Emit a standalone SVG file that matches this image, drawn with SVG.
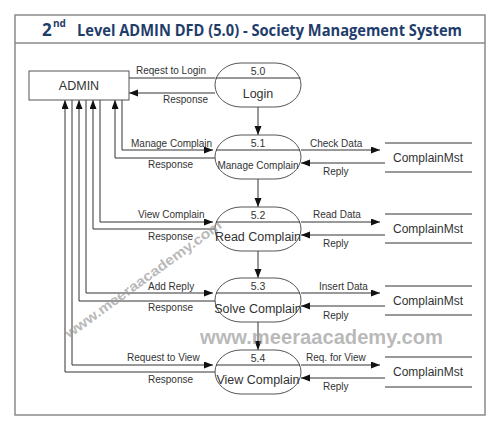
<svg xmlns="http://www.w3.org/2000/svg" width="500" height="429" viewBox="0 0 500 429">
<style>
.frame{fill:#fff;stroke:#8a8a8a;stroke-width:1.5}
.box{fill:#fff;stroke:#555;stroke-width:1}
.proc{fill:#fff;stroke:#555;stroke-width:1}
.ln{fill:none;stroke:#333;stroke-width:1}
.t{font-family:"Liberation Sans",Arial,sans-serif;fill:#333}
.lbl{font-size:10px}
.num{font-size:10.5px;text-anchor:middle}
.pn{font-size:12.5px;text-anchor:middle}
.title{font-family:"Open Sans","Liberation Sans",sans-serif;font-weight:bold;fill:#1f3d6b}
.wm{font-family:"Liberation Sans",Arial,sans-serif;font-weight:bold;fill:#9a9a9a;fill-opacity:0.7}
</style>
<defs>
<marker id="ah" markerUnits="userSpaceOnUse" markerWidth="10" markerHeight="8" refX="9" refY="3.5" orient="auto">
<path d="M0,0 L9,3.5 L0,7 z" fill="#111"/>
</marker>
</defs>
<rect class="frame" x="15" y="15" width="470" height="400"/>
<line x1="15" y1="43" x2="485" y2="43" stroke="#8a8a8a" stroke-width="1.5"/>
<g id="title">
<text class="title" x="42" y="36" font-size="17">2</text>
<text class="title" x="53" y="27" font-size="10">nd</text>
<text class="title" x="77" y="36" font-size="15.5" textLength="385" lengthAdjust="spacingAndGlyphs">Level ADMIN DFD (5.0) - Society Management System</text>
</g>

<g id="connectors">
<path class="ln" d="M129,78 H215"/>
<path class="ln" d="M215,93 H129" marker-end="url(#ah)"/>
<path class="ln" d="M258,107 V135" marker-end="url(#ah)"/>
<path class="ln" d="M258,179 V207" marker-end="url(#ah)"/>
<path class="ln" d="M258,251 V278" marker-end="url(#ah)"/>
<path class="ln" d="M258,322 V350" marker-end="url(#ah)"/>

<path class="ln" d="M122,100 V150 H213" marker-end="url(#ah)"/>
<path class="ln" d="M216,158 H115 V100" marker-end="url(#ah)"/>
<path class="ln" d="M100,100 V222 H213" marker-end="url(#ah)"/>
<path class="ln" d="M216,229 H93 V100" marker-end="url(#ah)"/>
<path class="ln" d="M86,100 V293 H213" marker-end="url(#ah)"/>
<path class="ln" d="M216,301 H79 V100" marker-end="url(#ah)"/>
<path class="ln" d="M72,100 V365 H213" marker-end="url(#ah)"/>
<path class="ln" d="M216,372 H65 V100" marker-end="url(#ah)"/>

<path class="ln" d="M301,150 H380" marker-end="url(#ah)"/>
<path class="ln" d="M385,163 H301" marker-end="url(#ah)"/>
<path class="ln" d="M301,222 H380" marker-end="url(#ah)"/>
<path class="ln" d="M385,235 H301" marker-end="url(#ah)"/>
<path class="ln" d="M301,293 H380" marker-end="url(#ah)"/>
<path class="ln" d="M385,306 H301" marker-end="url(#ah)"/>
<path class="ln" d="M301,365 H380" marker-end="url(#ah)"/>
<path class="ln" d="M385,378 H301" marker-end="url(#ah)"/>

<text class="t lbl" x="136" y="74">Reqest to Login</text>
<text class="t lbl" x="163" y="103">Response</text>
<text class="t lbl" x="131" y="147">Manage Complain</text>
<text class="t lbl" x="148" y="168">Response</text>
<text class="t lbl" x="138" y="218">View Complain</text>
<text class="t lbl" x="148" y="240">Response</text>
<text class="t lbl" x="148" y="290">Add Reply</text>
<text class="t lbl" x="148" y="311">Response</text>
<text class="t lbl" x="127" y="361">Request to View</text>
<text class="t lbl" x="148" y="383">Response</text>

<text class="t lbl" x="310" y="147">Check Data</text>
<text class="t lbl" x="323" y="175">Reply</text>
<text class="t lbl" x="313" y="218">Read Data</text>
<text class="t lbl" x="323" y="247">Reply</text>
<text class="t lbl" x="319" y="290">Insert Data</text>
<text class="t lbl" x="323" y="319">Reply</text>
<text class="t lbl" x="306" y="361">Req. for View</text>
<text class="t lbl" x="323" y="390">Reply</text>
</g>

<g id="admin">
<rect class="box" x="29" y="71" width="100" height="29"/>
<text class="t" x="79" y="90" font-size="12.5" text-anchor="middle">ADMIN</text>
</g>

<g id="p50">
<rect class="proc" x="215" y="63" width="86" height="44" rx="26" ry="22"/>
<line class="ln" x1="215.5" y1="78" x2="300.5" y2="78"/>
<text class="t num" x="258" y="75">5.0</text>
<text class="t pn" x="258" y="98">Login</text>
</g>
<g id="p51">
<rect class="proc" x="215" y="135" width="86" height="44" rx="26" ry="22"/>
<line class="ln" x1="216" y1="150" x2="300" y2="150"/>
<text class="t num" x="258" y="147">5.1</text>
<text class="t" x="258" y="169" font-size="10" text-anchor="middle">Manage Complain</text>
</g>
<g id="p52">
<rect class="proc" x="215" y="207" width="86" height="44" rx="26" ry="22"/>
<line class="ln" x1="216" y1="222" x2="300" y2="222"/>
<text class="t num" x="258" y="219">5.2</text>
<text class="t pn" x="258" y="241">Read Complain</text>
</g>
<g id="p53">
<rect class="proc" x="215" y="278" width="86" height="44" rx="26" ry="22"/>
<line class="ln" x1="216" y1="293" x2="300" y2="293"/>
<text class="t num" x="258" y="290">5.3</text>
<text class="t pn" x="258" y="313">Solve Complain</text>
</g>
<g id="p54">
<rect class="proc" x="215" y="350" width="86" height="44" rx="26" ry="22"/>
<line class="ln" x1="216" y1="365" x2="300" y2="365"/>
<text class="t num" x="258" y="362">5.4</text>
<text class="t pn" x="258" y="384">View Complain</text>
</g>

<g id="ds1">
<line class="ln" x1="385" y1="143" x2="472" y2="143"/>
<line class="ln" x1="385" y1="172" x2="472" y2="172"/>
<text class="t" x="428" y="162" font-size="12" text-anchor="middle">ComplainMst</text>
</g>
<g id="ds2">
<line class="ln" x1="385" y1="214" x2="472" y2="214"/>
<line class="ln" x1="385" y1="243" x2="472" y2="243"/>
<text class="t" x="428" y="233" font-size="12" text-anchor="middle">ComplainMst</text>
</g>
<g id="ds3">
<line class="ln" x1="385" y1="286" x2="472" y2="286"/>
<line class="ln" x1="385" y1="315" x2="472" y2="315"/>
<text class="t" x="428" y="305" font-size="12" text-anchor="middle">ComplainMst</text>
</g>
<g id="ds4">
<line class="ln" x1="385" y1="357" x2="472" y2="357"/>
<line class="ln" x1="385" y1="387" x2="472" y2="387"/>
<text class="t" x="428" y="376" font-size="12" text-anchor="middle">ComplainMst</text>
</g>

<g id="watermarks">
<text class="wm" font-size="14" text-anchor="middle" textLength="190" lengthAdjust="spacingAndGlyphs" transform="translate(146,283) rotate(-36)" fill-opacity="0.55">www.meeraacademy.com</text>
<text class="wm" x="200" y="344" font-size="20" textLength="243" lengthAdjust="spacingAndGlyphs">www.meeraacademy.com</text>
</g>
</svg>
